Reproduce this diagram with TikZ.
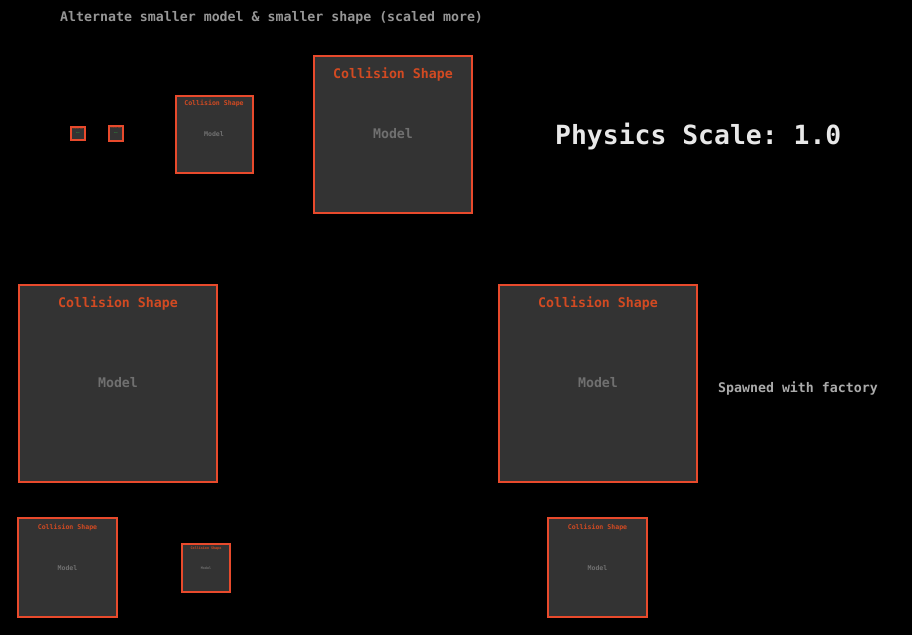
\documentclass[tikz,border=0pt]{standalone}
\usepackage{fontspec}
\usetikzlibrary{calc}
\setmonofont{DejaVu Sans Mono}
\definecolor{cbord}{HTML}{E84A2C}
\definecolor{cfill}{HTML}{333333}
\definecolor{corg}{HTML}{D24A22}
\definecolor{cmod}{HTML}{707070}
\definecolor{cgreen}{HTML}{28AA3C}
\definecolor{ctitle}{HTML}{969696}
\definecolor{cphys}{HTML}{E8E8E8}
\definecolor{cspawn}{HTML}{AAAAAA}
\newcommand\mybox[4]{%
  \fill[cbord] (#1,#2) rectangle (#3,#4);
  \fill[cfill] ($(#1,#2)+(1.6,1.6)$) rectangle ($(#3,#4)-(1.6,1.6)$);}
\begin{document}
\begin{tikzpicture}[x=1bp,y=-1bp,
  cs/.style={text=corg,font=\ttfamily\bfseries\fontsize{#1}{#1}\selectfont,inner sep=0pt},
  md/.style={text=cmod,font=\ttfamily\bfseries\fontsize{#1}{#1}\selectfont,inner sep=0pt},
  lbl/.style={font=\ttfamily\bfseries\fontsize{#1}{#1}\selectfont,inner sep=0pt}]
\fill[black] (0,0) rectangle (912,635);
\useasboundingbox (0,0) rectangle (912,635);
% boxes
\mybox{70}{126}{86}{141}
\mybox{108}{125}{124}{142}
\mybox{175}{95}{254}{174}
\mybox{313}{55}{473}{214}
\mybox{18}{284}{218}{483}
\mybox{498}{284}{698}{483}
\mybox{17}{517}{118}{618}
\mybox{181}{543}{231}{593}
\mybox{547}{517}{648}{618}
% texts
\node[lbl=13.3,text=ctitle,anchor=west] (title) at (60,18) {Alternate smaller model \& smaller shape (scaled more)};
\node[lbl=26.5,text=cphys,anchor=west] (phys) at (555,137) {Physics Scale: 1.0};
\node[lbl=13.3,text=cspawn,anchor=west] (spawn) at (718,388) {Spawned with factory};
\node[cs=1.2] (t1c) at (78,129) {Collision Shape};
\node[md=1.2,text=cgreen] (t1m) at (78,133.5) {Model};
\node[cs=1.2] (t2c) at (116,128.5) {Collision Shape};
\node[md=1.2,text=cgreen] (t2m) at (116,133.5) {Model};
\node[cs=6.6] (b2c) at (214,104) {Collision Shape};
\node[md=6.6] (b2m) at (214,134) {Model};
\node[cs=13.3] (b3c) at (393,74) {Collision Shape};
\node[md=13.3] (b3m) at (393,134) {Model};
\node[cs=13.3] (b4c) at (118,303) {Collision Shape};
\node[md=13.3] (b4m) at (118,383) {Model};
\node[cs=13.3] (b5c) at (598,303) {Collision Shape};
\node[md=13.3] (b5m) at (598,383) {Model};
\node[cs=6.6] (b6c) at (67.5,528) {Collision Shape};
\node[md=6.6] (b6m) at (67.5,568) {Model};
\node[cs=3.4] (b7c) at (206,548) {Collision Shape};
\node[md=3.4] (b7m) at (206,568) {Model};
\node[cs=6.6] (b8c) at (597.5,528) {Collision Shape};
\node[md=6.6] (b8m) at (597.5,568) {Model};
\end{tikzpicture}
\end{document}
